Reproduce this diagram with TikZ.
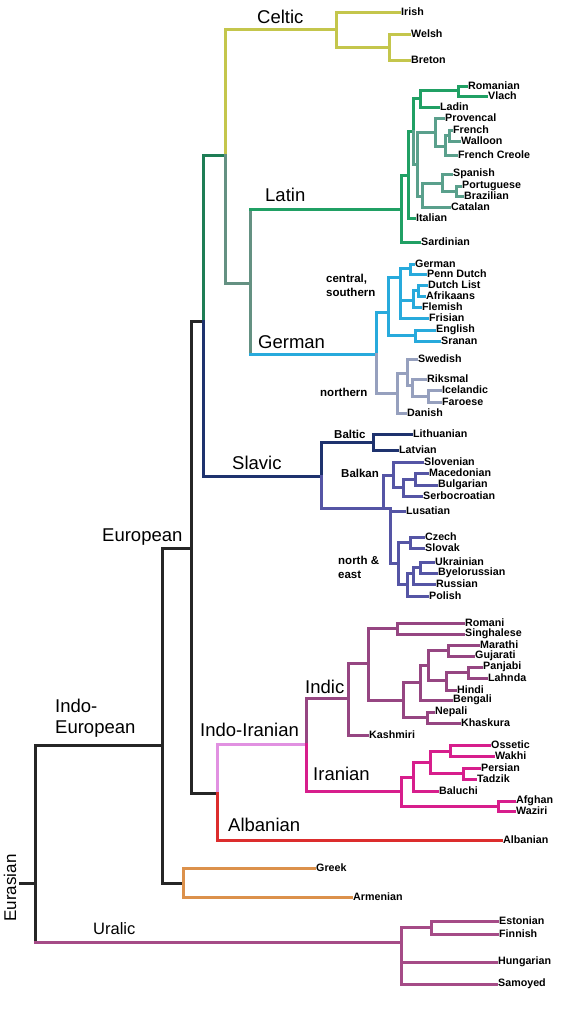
\documentclass[tikz,border=0pt]{standalone}
\usepackage{fontspec}
\setmainfont{Liberation Sans}

\definecolor{stem}{RGB}{38,38,38}
\definecolor{nwc}{RGB}{30,125,85}
\definecolor{celticc}{RGB}{196,198,76}
\definecolor{lgc}{RGB}{100,145,130}
\definecolor{latinc}{RGB}{32,160,100}
\definecolor{romc}{RGB}{90,160,140}
\definecolor{germc}{RGB}{40,170,220}
\definecolor{nordc}{RGB}{150,160,190}
\definecolor{slavc}{RGB}{30,50,110}
\definecolor{slavlc}{RGB}{85,85,165}
\definecolor{iic}{RGB}{225,145,225}
\definecolor{indicc}{RGB}{150,70,130}
\definecolor{iranc}{RGB}{215,30,140}
\definecolor{albc}{RGB}{220,45,45}
\definecolor{gac}{RGB}{220,145,75}
\definecolor{uralc}{RGB}{165,75,135}

\begin{document}
\begin{tikzpicture}[x=1pt, y=-1pt,
  br/.style={line width=3pt, line cap=rect},
  leaf/.style={anchor=west, inner sep=2pt, font=\fontsize{10.7}{11}\selectfont\bfseries},
  grp/.style={anchor=west, inner sep=0pt, font=\fontsize{18.5}{21}\selectfont, align=left},
  sub/.style={anchor=west, inner sep=0pt, font=\fontsize{11.5}{14}\selectfont\bfseries, align=left},
]
\fill[white] (0,0) rectangle (561,1013);
\useasboundingbox (0,0) rectangle (561,1013);

%% Trunk junctions
\coordinate (stub) at (20,883);
\coordinate (root) at (35,883);
\coordinate (ie) at (162,745);
\coordinate (europe) at (191,548);
\coordinate (nw) at (203,321);
\coordinate (iia) at (217,793);
\coordinate (ga) at (183,883);
\coordinate (clg) at (225,155);
\coordinate (lg) at (250,283);
\coordinate (celtic) at (336,29);
\coordinate (latin) at (401,209);
\coordinate (germanic) at (376,354);
\coordinate (slavic) at (321,476);
\coordinate (indoir) at (306,744);
\coordinate (uralic) at (401,942);
\node[leaf] (albanian) at (501,840) {Albanian};

\draw[br, stem] (stub) -- (root);
\draw[br, stem] (root) |- (ie);
\draw[br, stem] (root) |- (uralic);
\draw[br, uralc] (root |- uralic) -- (uralic);
\draw[br, stem] (ie) |- (europe);
\draw[br, stem] (ie) |- (ga);
\draw[br, stem] (europe) |- (nw);
\draw[br, stem] (europe) |- (iia);
\draw[br, nwc] (nw) |- (clg);
\draw[br, slavc] (nw) |- (slavic);
\draw[br, celticc] (clg) |- (celtic);
\draw[br, lgc] (clg) |- (lg);
\draw[br, lgc] (lg) |- (latin);
\draw[br, latinc] (lg |- latin) -- (latin);
\draw[br, lgc] (lg) |- (germanic);
\draw[br, germc] (lg |- germanic) -- (germanic);
\draw[br, iic] (iia) |- (indoir);
\draw[br, albc] (iia) |- (albanian);

%% Celtic
\coordinate (brit) at (389,47);
\node[leaf] (irish) at (399,12) {Irish};
\node[leaf] (welsh) at (409,34) {Welsh};
\node[leaf] (breton) at (409,60) {Breton};
\foreach \p/\c in {celtic/irish, celtic/brit, brit/welsh, brit/breton}
  \draw[br, celticc] (\p) |- (\c);

%% Latin
\coordinate (lat1) at (408,175);
\coordinate (lat2) at (413,131);
\coordinate (rvl) at (420,98);
\coordinate (rv) at (458,90);
\coordinate (rw) at (417,164);
\coordinate (gallo) at (435,132);
\coordinate (fr) at (445,146);
\coordinate (fw) at (449,135);
\coordinate (ibero) at (422,196);
\coordinate (sp) at (442,183);
\coordinate (pb) at (456,191);
\node[leaf] (romanian) at (466,86) {Romanian};
\node[leaf] (vlach) at (486,96) {Vlach};
\node[leaf] (ladin) at (438,107) {Ladin};
\node[leaf] (provencal) at (443,118) {Provencal};
\node[leaf] (french) at (451,130) {French};
\node[leaf] (walloon) at (459,141) {Walloon};
\node[leaf] (creole) at (456,155) {French Creole};
\node[leaf] (spanish) at (451,174) {Spanish};
\node[leaf] (portuguese) at (460,186) {Portuguese};
\node[leaf] (brazilian) at (462,196) {Brazilian};
\node[leaf] (catalan) at (449,207) {Catalan};
\node[leaf] (italian) at (414,218) {Italian};
\node[leaf] (sardinian) at (419,242) {Sardinian};
\foreach \p/\c in {latin/lat1, latin/sardinian, lat1/lat2, lat1/italian, lat2/rvl,
                   rvl/rv, rvl/ladin, rv/romanian, rv/vlach}
  \draw[br, latinc] (\p) |- (\c);
\foreach \p/\c in {lat2/rw, rw/gallo, rw/ibero, gallo/provencal, gallo/fr, fr/fw, fr/creole,
                   fw/french, fw/walloon, ibero/sp, ibero/catalan, sp/spanish, sp/pb,
                   pb/portuguese, pb/brazilian}
  \draw[br, romc] (\p) |- (\c);

%% Germanic
\coordinate (cs) at (388,312);
\coordinate (wg) at (400,277);
\coordinate (gpd) at (410,268);
\coordinate (daf) at (413,300);
\coordinate (da) at (418,290);
\coordinate (es) at (415,335);
\coordinate (north) at (397,393);
\coordinate (srif) at (407,373);
\coordinate (rif) at (412,385);
\coordinate (icf) at (428,396);
\node[leaf] (german) at (413,264) {German};
\node[leaf] (penndutch) at (425,274) {Penn Dutch};
\node[leaf] (dutchlist) at (426,285) {Dutch List};
\node[leaf] (afrikaans) at (424,296) {Afrikaans};
\node[leaf] (flemish) at (420,307) {Flemish};
\node[leaf] (frisian) at (427,318) {Frisian};
\node[leaf] (english) at (434,330) {English};
\node[leaf] (sranan) at (439,341) {Sranan};
\node[leaf] (swedish) at (416,359) {Swedish};
\node[leaf] (riksmal) at (425,379) {Riksmal};
\node[leaf] (icelandic) at (440,390) {Icelandic};
\node[leaf] (faroese) at (440,402) {Faroese};
\node[leaf] (danish) at (405,413) {Danish};
\foreach \p/\c in {germanic/cs, cs/wg, cs/es, wg/gpd, wg/daf, wg/frisian, gpd/german,
                   gpd/penndutch, daf/da, daf/flemish, da/dutchlist, da/afrikaans,
                   es/english, es/sranan}
  \draw[br, germc] (\p) |- (\c);
\foreach \p/\c in {germanic/north, north/srif, north/danish, srif/swedish, srif/rif,
                   rif/riksmal, rif/icf, icf/icelandic, icf/faroese}
  \draw[br, nordc] (\p) |- (\c);

%% Slavic
\coordinate (baltic) at (373,442);
\coordinate (sl) at (383,508);
\coordinate (balkan) at (393,475);
\coordinate (mbs) at (403,487);
\coordinate (mb) at (415,479);
\coordinate (ne) at (390,508);
\coordinate (we) at (398,563);
\coordinate (czs) at (410,542);
\coordinate (east) at (407,584);
\coordinate (urb) at (413,573);
\coordinate (ub) at (420,567);
\node[leaf] (lithuanian) at (411,434) {Lithuanian};
\node[leaf] (latvian) at (397,450) {Latvian};
\node[leaf] (slovenian) at (422,462) {Slovenian};
\node[leaf] (macedonian) at (427,473) {Macedonian};
\node[leaf] (bulgarian) at (436,485) {Bulgarian};
\node[leaf] (serbo) at (421,496) {Serbocroatian};
\node[leaf] (lusatian) at (404,511) {Lusatian};
\node[leaf] (czech) at (423,537) {Czech};
\node[leaf] (slovak) at (423,548) {Slovak};
\node[leaf] (ukrainian) at (433,562) {Ukrainian};
\node[leaf] (byelo) at (436,573) {Byelorussian};
\node[leaf] (russian) at (434,584) {Russian};
\node[leaf] (polish) at (427,596) {Polish};
\foreach \p/\c in {slavic/baltic, baltic/lithuanian, baltic/latvian}
  \draw[br, slavc] (\p) |- (\c);
\foreach \p/\c in {slavic/sl, sl/balkan, sl/ne, balkan/slovenian, balkan/mbs, mbs/mb,
                   mbs/serbo, mb/macedonian, mb/bulgarian, ne/lusatian, ne/we, we/czs,
                   we/east, czs/czech, czs/slovak, east/urb, east/polish, urb/ub,
                   urb/russian, ub/ukrainian, ub/byelo}
  \draw[br, slavlc] (\p) |- (\c);

%% Indic
\coordinate (indic) at (348,698);
\coordinate (ia) at (368,663);
\coordinate (rs) at (397,628);
\coordinate (ib) at (403,700);
\coordinate (ic) at (420,682);
\coordinate (mgplh) at (428,665);
\coordinate (mg) at (448,650);
\coordinate (plh) at (446,680);
\coordinate (pl) at (468,672);
\coordinate (nk) at (427,717);
\node[leaf] (romani) at (463,623) {Romani};
\node[leaf] (singhalese) at (463,634) {Singhalese};
\node[leaf] (marathi) at (478,645) {Marathi};
\node[leaf] (gujarati) at (473,656) {Gujarati};
\node[leaf] (panjabi) at (481,667) {Panjabi};
\node[leaf] (lahnda) at (486,678) {Lahnda};
\node[leaf] (hindi) at (455,690) {Hindi};
\node[leaf] (bengali) at (451,700) {Bengali};
\node[leaf] (nepali) at (433,712) {Nepali};
\node[leaf] (khaskura) at (459,723) {Khaskura};
\node[leaf] (kashmiri) at (367,735) {Kashmiri};
\foreach \p/\c in {indoir/indic, indic/ia, indic/kashmiri, ia/rs, ia/ib, rs/romani,
                   rs/singhalese, ib/ic, ib/nk, ic/mgplh, ic/bengali, mgplh/mg, mgplh/plh,
                   mg/marathi, mg/gujarati, plh/pl, plh/hindi, pl/panjabi, pl/lahnda,
                   nk/nepali, nk/khaskura}
  \draw[br, indicc] (\p) |- (\c);

%% Iranian
\coordinate (iranian) at (401,791);
\coordinate (ir1) at (413,777);
\coordinate (ir2) at (430,762);
\coordinate (ow) at (450,751);
\coordinate (pt) at (463,773);
\coordinate (aw) at (498,806);
\node[leaf] (ossetic) at (489,745) {Ossetic};
\node[leaf] (wakhi) at (493,756) {Wakhi};
\node[leaf] (persian) at (479,768) {Persian};
\node[leaf] (tadzik) at (475,779) {Tadzik};
\node[leaf] (baluchi) at (437,791) {Baluchi};
\node[leaf] (afghan) at (514,801) {Afghan};
\node[leaf] (waziri) at (514,811) {Waziri};
\foreach \p/\c in {indoir/iranian, iranian/ir1, iranian/aw, ir1/ir2, ir1/baluchi, ir2/ow,
                   ir2/pt, ow/ossetic, ow/wakhi, pt/persian, pt/tadzik, aw/afghan, aw/waziri}
  \draw[br, iranc] (\p) |- (\c);

%% Greek, Armenian
\node[leaf] (greek) at (314,868) {Greek};
\node[leaf] (armenian) at (351,897) {Armenian};
\draw[br, gac] (ga) |- (greek);
\draw[br, gac] (ga) |- (armenian);

%% Uralic
\coordinate (ef) at (431,927);
\node[leaf] (estonian) at (497,921) {Estonian};
\node[leaf] (finnish) at (497,934) {Finnish};
\node[leaf] (hungarian) at (496,962) {Hungarian};
\node[leaf] (samoyed) at (496,984) {Samoyed};
\foreach \p/\c in {uralic/ef, uralic/hungarian, uralic/samoyed, ef/estonian, ef/finnish}
  \draw[br, uralc] (\p) |- (\c);

%% Group labels
\node[grp] (lceltic) at (257,17) {Celtic};
\node[grp] (llatin) at (265,195) {Latin};
\node[grp] (lgerman) at (258,342) {German};
\node[grp] (lslavic) at (232,463) {Slavic};
\node[grp] (leuropean) at (102,537) {European};
\node[grp] (lindoeur) at (55,718) {Indo-\\European};
\node[grp] (lindoir) at (200,730) {Indo-Iranian};
\node[grp] (lindic) at (305,687) {Indic};
\node[grp] (liranian) at (313,774) {Iranian};
\node[grp] (lalbanian) at (228,825) {Albanian};
\node[grp, font=\fontsize{16.5}{18}\selectfont] (luralic) at (93,929) {Uralic};
\node[grp, font=\fontsize{17}{18}\selectfont, anchor=center, rotate=90] (leurasian) at (10,888) {Eurasian};
\node[sub] (lcentral) at (326,285) {central,\\southern};
\node[sub] (lnorthern) at (320,392) {northern};
\node[sub] (lbaltic) at (334,434) {Baltic};
\node[sub] (lbalkan) at (341,473) {Balkan};
\node[sub] (lnortheast) at (338,567) {north \&\\east};

\end{tikzpicture}
\end{document}
